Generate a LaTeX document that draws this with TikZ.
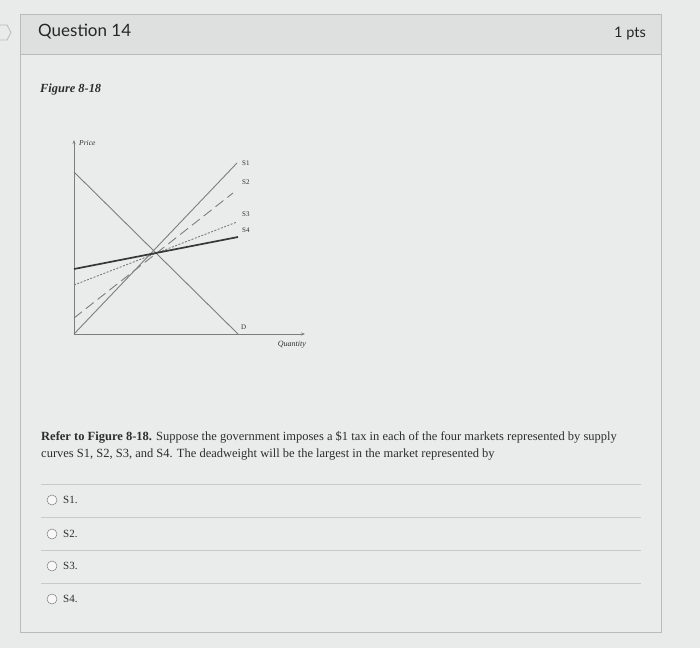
\documentclass[tikz,border=0pt]{standalone}
\usepackage{fontspec}
\setmainfont{Liberation Serif}
\newfontfamily\headfont{Lato}
\usetikzlibrary{arrows.meta}

\definecolor{pagebg}{RGB}{233,235,234}
\definecolor{cardbg}{RGB}{234,236,235}
\definecolor{headbg}{RGB}{222,224,224}
\definecolor{framegray}{RGB}{185,187,187}
\definecolor{rulegray}{RGB}{200,202,202}
\definecolor{linegray}{RGB}{125,125,125}
\definecolor{darkline}{RGB}{55,55,55}
\definecolor{inkgray}{RGB}{45,45,45}

\tikzset{
  curve/.style={draw=linegray, line width=0.9pt},
  axis/.style={draw=linegray, line width=0.8pt, -{Stealth[length=4pt,width=3pt]}},
  curvelabel/.style={anchor=west, inner sep=0pt, text=inkgray, font=\fontsize{7}{7}\selectfont},
  optrule/.style={draw=rulegray, line width=0.6pt},
  radio/.style={circle, draw=linegray, fill=white!60!cardbg, inner sep=0pt, minimum size=10pt, line width=0.5pt},
  optlabel/.style={anchor=west, inner sep=0pt, text=inkgray, font=\fontsize{11}{11}\selectfont},
}

\begin{document}
\begin{tikzpicture}[x=1pt,y=-1pt]
  \useasboundingbox (0,0) rectangle (700,648);
  \fill[pagebg] (0,0) rectangle (700,648);

  % card and header
  \draw[framegray, fill=cardbg, line width=0.7pt] (20,14) rectangle (661,632);
  \draw[framegray, fill=headbg, line width=0.7pt] (20,14) rectangle (661,54);
  \draw[framegray, line width=0.8pt] (0,25) -- (7,25) -- (11,32.5) -- (7,40) -- (0,40);

  \node (qtitle) [anchor=west, inner sep=0pt, text=black!85, font=\headfont\fontsize{17}{17}\selectfont] at (38,32) {Question 14};
  \node (qpts) [anchor=east, inner sep=0pt, text=black!85, font=\headfont\fontsize{14.5}{14.5}\selectfont] at (646,34) {1 pts};

  \node (figcap) [anchor=west, inner sep=0pt, text=inkgray, font=\bfseries\itshape\fontsize{12.4}{12.4}\selectfont] at (40,90) {Figure 8-18};

  % the graph
  \coordinate (O) at (74,334);
  \coordinate (ptop) at (74,140);
  \coordinate (qend) at (305,334);
  \coordinate (dtop) at (74,172);
  \coordinate (dbot) at (238,334);
  \coordinate (s1b) at (237,163);
  \coordinate (s2a) at (74,318);
  \coordinate (s2b) at (233,193);
  \coordinate (s3a) at (74,285);
  \coordinate (s3b) at (237,222);
  \coordinate (s4a) at (74,269);
  \coordinate (s4b) at (238,237);

  \draw[axis] (O) -- (ptop);
  \draw[axis] (O) -- (qend);

  \draw[curve] (dtop) -- (dbot);
  \draw[curve] (O) -- (s1b);
  \draw[curve, dash pattern=on 10pt off 5pt] (s2a) -- (s2b);
  \draw[curve, dash pattern=on 2pt off 1.5pt] (s3a) -- (s3b);
  \draw[draw=darkline, line width=1.7pt] (s4a) -- (s4b);

  \node (price) [anchor=west, inner sep=0pt, text=inkgray, font=\itshape\fontsize{7.5}{7.5}\selectfont] at (79,143) {Price};
  \node (qty) [anchor=east, inner sep=0pt, text=inkgray, font=\itshape\fontsize{8}{8}\selectfont] at (306,345) {Quantity};
  \node (ds) [curvelabel] at (241,327) {D};
  \node (s1) [curvelabel] at (242,163) {S1};
  \node (s2) [curvelabel] at (242,182) {S2};
  \node (s3) [curvelabel] at (242,214) {S3};
  \node (s4) [curvelabel] at (242,230) {S4};

  % question text
  \node (qtext) [anchor=north west, inner sep=0pt, align=left, text=inkgray, font=\fontsize{12.5}{17}\selectfont] at (41,431)
    {\textbf{Refer to Figure 8-18.} Suppose the government imposes a \$1 tax in each of the four markets represented by supply\\
     curves S1, S2, S3, and S4. The deadweight will be the largest in the market represented by};

  % answers
  \coordinate (r0a) at (41,484);  \coordinate (r0b) at (641,484);
  \coordinate (r1a) at (41,517);  \coordinate (r1b) at (641,517);
  \coordinate (r2a) at (41,550);  \coordinate (r2b) at (641,550);
  \coordinate (r3a) at (41,583);  \coordinate (r3b) at (641,583);
  \draw[optrule] (r0a) -- (r0b);
  \draw[optrule] (r1a) -- (r1b);
  \draw[optrule] (r2a) -- (r2b);
  \draw[optrule] (r3a) -- (r3b);

  \node (c1) [radio] at (52,500) {};
  \node (c2) [radio] at (52,534) {};
  \node (c3) [radio] at (52,566) {};
  \node (c4) [radio] at (52,599) {};
  \node (o1) [optlabel] at (63,500) {S1.};
  \node (o2) [optlabel] at (63,534) {S2.};
  \node (o3) [optlabel] at (63,566) {S3.};
  \node (o4) [optlabel] at (63,599) {S4.};
\end{tikzpicture}
\end{document}
